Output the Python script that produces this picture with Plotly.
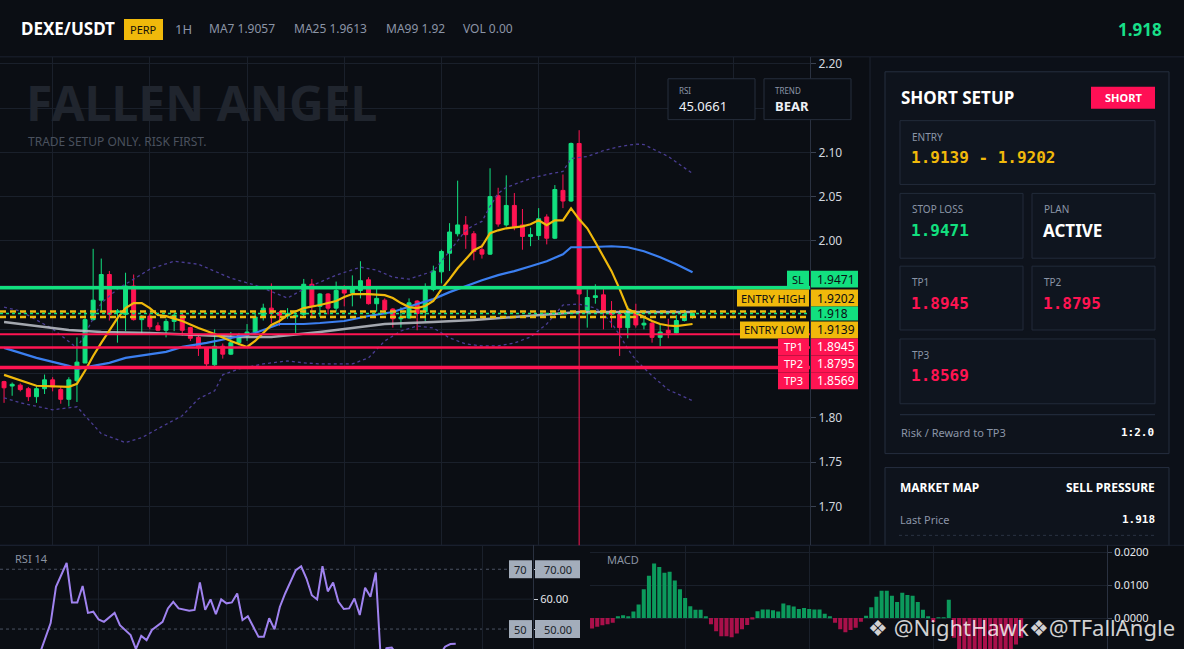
import plotly.graph_objects as go

W, H = 1184, 649
SANS = "Noto Sans"
MONO = "DejaVu Sans Mono"

# ---------------- data ----------------
opens = [1.841, 1.836, 1.837, 1.833, 1.824, 1.833, 1.843, 1.832, 1.821, 1.842,
         1.862, 1.911, 1.933, 1.962, 1.919, 1.917, 1.949, 1.911, 1.915, 1.904,
         1.899, 1.909, 1.916, 1.902, 1.891, 1.879, 1.860, 1.881, 1.872, 1.885,
         1.893, 1.897, 1.914, 1.924, 1.919, 1.915, 1.914, 1.917, 1.951, 1.926,
         1.940, 1.924, 1.946, 1.941, 1.944, 1.956, 1.929, 1.933, 1.923, 1.912,
         1.913, 1.932, 1.920, 1.945, 1.965, 1.986, 2.008, 2.018, 2.008, 1.990,
         1.985, 2.051, 2.018, 2.040, 2.018, 2.005, 2.006, 2.027, 2.003, 2.057,
         2.045, 2.110, 1.921, 1.936, 1.939, 1.921, 1.917, 1.902, 1.919, 1.905,
         1.907, 1.891, 1.899, 1.896, 1.910, 1.915]
highs = [1.842, 1.840, 1.839, 1.835, 1.836, 1.849, 1.846, 1.836, 1.846, 1.891,
         1.922, 1.991, 1.980, 1.966, 1.923, 1.964, 1.962, 1.916, 1.918, 1.908,
         1.912, 1.918, 1.918, 1.903, 1.893, 1.880, 1.900, 1.884, 1.897, 1.896,
         1.906, 1.920, 1.929, 1.952, 1.921, 1.924, 1.917, 1.957, 1.957, 1.941,
         1.941, 1.954, 1.950, 1.961, 1.977, 1.959, 1.946, 1.935, 1.924, 1.925,
         1.935, 1.933, 1.952, 1.972, 1.990, 2.020, 2.068, 2.028, 2.011, 1.996,
         2.082, 2.060, 2.074, 2.054, 2.036, 2.015, 2.037, 2.030, 2.063, 2.075,
         2.111, 2.125, 1.945, 1.951, 1.946, 1.932, 1.922, 1.926, 1.929, 1.913,
         1.910, 1.906, 1.912, 1.916, 1.922, 1.919]
lows = [1.817, 1.825, 1.830, 1.819, 1.817, 1.827, 1.830, 1.816, 1.813, 1.818,
        1.862, 1.910, 1.921, 1.910, 1.885, 1.898, 1.910, 1.895, 1.900, 1.898,
        1.891, 1.898, 1.893, 1.887, 1.870, 1.858, 1.858, 1.867, 1.871, 1.882,
        1.887, 1.894, 1.910, 1.907, 1.904, 1.912, 1.896, 1.915, 1.915, 1.914,
        1.917, 1.920, 1.926, 1.926, 1.935, 1.928, 1.920, 1.918, 1.902, 1.902,
        1.912, 1.899, 1.909, 1.943, 1.952, 1.966, 2.005, 1.991, 1.978, 1.980,
        1.984, 2.016, 2.016, 2.012, 1.990, 1.994, 2.001, 1.996, 2.002, 2.037,
        2.044, 1.640, 1.902, 1.929, 1.900, 1.902, 1.870, 1.890, 1.902, 1.900,
        1.885, 1.881, 1.890, 1.895, 1.909, 1.912]
closes = [1.834, 1.838, 1.832, 1.824, 1.833, 1.843, 1.835, 1.821, 1.843, 1.863,
          1.911, 1.933, 1.962, 1.917, 1.921, 1.949, 1.911, 1.915, 1.903, 1.899,
          1.909, 1.916, 1.899, 1.890, 1.879, 1.861, 1.881, 1.872, 1.885, 1.893,
          1.897, 1.914, 1.924, 1.918, 1.916, 1.918, 1.916, 1.951, 1.926, 1.940,
          1.924, 1.944, 1.941, 1.946, 1.955, 1.929, 1.935, 1.922, 1.912, 1.914,
          1.930, 1.918, 1.945, 1.966, 1.988, 2.010, 2.018, 2.007, 1.988, 1.985,
          2.050, 2.019, 2.040, 2.016, 2.005, 2.007, 2.025, 2.003, 2.058, 2.045,
          2.110, 1.940, 1.936, 1.938, 1.921, 1.917, 1.902, 1.921, 1.905, 1.907,
          1.891, 1.897, 1.896, 1.910, 1.917, 1.918]
candle_idx = list(range(len(opens)))

ma7_x = [0, 4, 8, 9, 10, 11, 12, 13, 14, 15, 16, 17, 18, 19, 20, 22, 24, 26, 28, 30,
         31, 32, 33, 34, 35, 37, 39, 41, 42, 43, 45, 47, 48, 49, 50, 51, 52, 53, 54, 55,
         56, 57, 58, 59, 60, 61, 62, 63, 64, 65, 66, 67, 68, 69, 70, 71, 72, 73, 74, 75,
         76, 77, 78, 79, 80, 81, 82, 83, 84, 85]
ma7_y = [1.8486, 1.8363, 1.8351, 1.8385, 1.8532, 1.870, 1.8847, 1.8982, 1.9128, 1.9241,
         1.9297, 1.9297, 1.9241, 1.9162, 1.915, 1.9095, 1.9016, 1.8948, 1.8869, 1.8802,
         1.8869, 1.8959, 1.905, 1.9095, 1.9162, 1.9241, 1.9275, 1.932, 1.9365, 1.9399,
         1.9399, 1.9387, 1.9354, 1.9297, 1.9252, 1.9241, 1.9264, 1.932, 1.9455, 1.9568,
         1.9691, 1.9793, 1.9894, 1.9939, 2.0086, 2.0119, 2.0142, 2.0153, 2.0164, 2.0187,
         2.0232, 2.0176, 2.0232, 2.0232, 2.0367, 2.0243, 2.0142, 1.9984, 1.9815, 1.9658,
         1.9455, 1.923, 1.9185, 1.914, 1.9095, 1.9061, 1.9044, 1.9038, 1.905, 1.9061]

ma25_x = [0, 4, 8, 9, 11, 13, 15, 18, 20, 22, 25, 28, 31, 34, 37, 39, 42, 45, 48, 51,
          53, 55, 57, 59, 61, 63, 65, 67, 69, 70, 72, 75, 77, 79, 81, 83, 85]
ma25_y = [1.8791, 1.8678, 1.8588, 1.8554, 1.8588, 1.8622, 1.8678, 1.8723, 1.8746, 1.8802,
          1.8847, 1.8903, 1.8959, 1.9061, 1.9061, 1.9072, 1.9095, 1.9151, 1.9196, 1.9286,
          1.9342, 1.9421, 1.9489, 1.9556, 1.9613, 1.9658, 1.9714, 1.977, 1.9849, 1.9928,
          1.9928, 1.9939, 1.9928, 1.9883, 1.9815, 1.9736, 1.9646]

ma99_x = [0, 4, 8, 12, 18, 24, 29, 33, 37, 39, 42, 47, 53, 58, 63, 68, 71, 78, 85]
ma99_y = [1.9083, 1.9038, 1.8993, 1.8971, 1.8959, 1.8937, 1.8914, 1.8914, 1.8948, 1.8971,
          1.9005, 1.9061, 1.9083, 1.9106, 1.914, 1.9173, 1.9196, 1.9196, 1.9196]

bb_up_x = [0, 2, 6, 9, 10, 12, 14, 18, 21, 24, 28, 31, 35, 37, 41, 44, 46, 48, 50, 53,
           55, 56, 57, 58, 59, 60, 61, 62, 63, 65, 67, 69, 70, 72, 74, 76, 78, 79, 80, 82, 85]
bb_up_y = [1.9252, 1.9207, 1.9005, 1.8791, 1.8948, 1.9297, 1.9455, 1.968, 1.977, 1.9736,
           1.9579, 1.950, 1.9354, 1.9455, 1.9613, 1.9703, 1.9669, 1.959, 1.9568, 1.9658,
           1.9883, 1.9995, 2.0119, 2.0176, 2.022, 2.039, 2.0536, 2.0604, 2.0637, 2.0705,
           2.075, 2.0784, 2.093, 2.0953, 2.102, 2.1065, 2.1093, 2.1088, 2.1043, 2.0953, 2.0761]

bb_lo_x = [0, 2, 6, 9, 10, 12, 15, 17, 19, 22, 24, 26, 27, 29, 32, 35, 37, 39, 43, 45,
           47, 49, 51, 53, 55, 57, 59, 61, 63, 65, 67, 69, 71, 73, 74, 75, 76, 77, 78, 80, 82, 85]
bb_lo_y = [1.8227, 1.8171, 1.8092, 1.8126, 1.8025, 1.7822, 1.7721, 1.7777, 1.7878, 1.8025,
           1.8216, 1.8306, 1.8486, 1.8554, 1.861, 1.8644, 1.8622, 1.861, 1.861, 1.8678,
           1.8869, 1.8982, 1.9038, 1.9016, 1.8903, 1.8836, 1.8813, 1.8813, 1.8847, 1.8914,
           1.9061, 1.9275, 1.9286, 1.924, 1.9174, 1.9072, 1.8937, 1.8779, 1.8655, 1.8475,
           1.8318, 1.8194]

# trade plan levels
sl_level = 1.9471
entry_high = 1.9202
entry_low = 1.9139
last_price = 1.918
tp1 = 1.8945
tp2 = 1.8795
tp3 = 1.8569
risk_reward = "1:2.0"

price_ticks = [1.70, 1.75, 1.80, 1.85, 1.90, 1.95, 2.00, 2.05, 2.10, 2.15, 2.20]
price_grid_x = [6, 18, 30, 42, 54, 66, 78, 90]

header_ma = [("MA7", "1.9057"), ("MA25", "1.9613"), ("MA99", "1.92"), ("VOL", "0.00")]
rsi_now = "45.0661"
trend_now = "BEAR"

rsi_x = [7, 9, 10, 12, 13, 14, 15, 16, 17, 18, 19, 21, 22, 24, 25, 26, 27, 28, 30, 31,
         32, 33, 35, 36, 37, 38, 39, 40, 41, 42, 43, 44, 45, 46, 48, 49, 50, 51, 52, 53,
         55, 56, 57, 58, 59, 60, 61, 62, 63, 64, 65, 66, 67, 68, 69, 70, 71, 72, 73, 75,
         78, 81, 83, 84, 85]
rsi_y = [42.0, 52.0, 64.1, 72.1, 58.9, 58.9, 64.4, 55.4, 55.8, 53.2, 52.4, 55.4, 51.3, 48.0,
         43.3, 47.7, 46.3, 49.7, 52.4, 56.9, 59.1, 56.9, 56.1, 56.4, 65.6, 56.4, 59.9, 55.0,
         59.9, 58.6, 58.9, 61.9, 53.0, 54.3, 47.4, 47.4, 53.6, 49.9, 57.4, 61.9, 69.7, 71.0,
         66.9, 61.3, 59.9, 71.0, 62.6, 65.6, 59.1, 56.7, 56.9, 60.2, 54.7, 63.8, 60.8, 68.9,
         38.0, 43.6, 43.8, 39.0, 36.0, 38.5, 44.1, 45.0, 45.07]
rsi_ticks = [70, 60, 50]
rsi_grid_x = [18, 42, 66, 90]

macd_x = list(range(2, 86))
macd_hist = [-0.0032, -0.0026, -0.0022, -0.0019, -0.0014,
             0.0004, 0.0009, 0.0004, 0.0020, 0.0041, 0.0088, 0.0129, 0.0166, 0.0155, 0.0138,
             0.0141, 0.0114, 0.0088, 0.0061, 0.0036, 0.0025, 0.0025, 0.0005,
             -0.0019, -0.0040, -0.0055, -0.0055, -0.0058, -0.0047, -0.0034, -0.0021, -0.0004,
             0.0021, 0.0026, 0.0026, 0.0024, 0.0020, 0.0044, 0.0039, 0.0035, 0.0028, 0.0031,
             0.0028, 0.0026, 0.0026, 0.0013, 0.0004,
             -0.0014, -0.0034, -0.0043, -0.0036, -0.0029, -0.0011,
             0.0007, 0.0033, 0.0065, 0.0083, 0.0083, 0.0068, 0.0049, 0.0077, 0.0070, 0.0068,
             0.0049, 0.0025, 0.0003,
             -0.0012, 0.0002, 0.0001, 0.0056,
             -0.0060, -0.0110, -0.0140, -0.0160, -0.0165, -0.0160, -0.0155, -0.0150, -0.0145,
             -0.0135, -0.0120, -0.0100, -0.0080, -0.0060]
macd_ticks = [0.02, 0.01, 0.0]
macd_ticktext = ["0.0200", "0.0100", "0.0000"]
macd_grid_x = [20, 44, 68]

# ---------------- styling ----------------
BG = "#0b0e14"
GRID = "#1a202b"
GREEN = "#12e07f"
RED = "#ff1452"
YELLOW = "#f0b90b"
LABEL = "#8b95a7"
WHITE = "#eef1f6"
PANEL = "#0e131c"
PANEL_LINE = "#252e3e"
BOX = "#0f151f"
BOX_LINE = "#222b3a"


def px_x(x):
    return x / W


def px_y(y):
    return 1 - y / H


def T(x, y, text, size=12, color=WHITE, family=SANS, xanchor="left", yanchor="middle", bold=False):
    if bold:
        text = "<b>" + text + "</b>"
    return dict(x=px_x(x), y=px_y(y), xref="paper", yref="paper", text=text, showarrow=False,
                xanchor=xanchor, yanchor=yanchor, font=dict(size=size, color=color, family=family),
                borderpad=0)


def R(x0, y0, x1, y1, fill, line=None, width=1, layer="below"):
    return dict(type="rect", xref="paper", yref="paper", x0=px_x(x0), x1=px_x(x1),
                y0=px_y(y1), y1=px_y(y0), fillcolor=fill,
                line=dict(color=line if line else fill, width=width if line else 0), layer=layer)


def L(x0, y0, x1, y1, color, width=1, dash="solid", layer="below"):
    return dict(type="line", xref="paper", yref="paper", x0=px_x(x0), x1=px_x(x1),
                y0=px_y(y0), y1=px_y(y1), line=dict(color=color, width=width, dash=dash), layer=layer)


fig = go.Figure()

# bands and MAs
for bx, by in ((bb_up_x, bb_up_y), (bb_lo_x, bb_lo_y)):
    fig.add_trace(go.Scatter(x=bx, y=by, mode="lines", xaxis="x", yaxis="y",
                             line=dict(color="#4a3d94", width=1.3, dash="dot"), hoverinfo="skip"))

fig.add_trace(go.Candlestick(x=candle_idx, open=opens, high=highs, low=lows, close=closes,
                             xaxis="x", yaxis="y", whiskerwidth=0,
                             increasing=dict(line=dict(color=GREEN, width=1), fillcolor=GREEN),
                             decreasing=dict(line=dict(color=RED, width=1), fillcolor=RED)))

fig.add_trace(go.Scatter(x=ma99_x, y=ma99_y, mode="lines", xaxis="x", yaxis="y",
                         line=dict(color="rgba(190,194,202,0.85)", width=2.5), hoverinfo="skip"))
fig.add_trace(go.Scatter(x=ma25_x, y=ma25_y, mode="lines", xaxis="x", yaxis="y",
                         line=dict(color="#3b7ff0", width=2.2), hoverinfo="skip"))
fig.add_trace(go.Scatter(x=ma7_x, y=ma7_y, mode="lines", xaxis="x", yaxis="y",
                         line=dict(color="#f0b90b", width=2.2), hoverinfo="skip"))

# RSI
fig.add_trace(go.Scatter(x=rsi_x, y=rsi_y, mode="lines", xaxis="x2", yaxis="y2",
                         line=dict(color="#a083f0", width=2), hoverinfo="skip"))

# MACD histogram
fig.add_trace(go.Bar(x=macd_x, y=macd_hist, xaxis="x3", yaxis="y3",
                     marker=dict(color=["#0c9a5c" if v >= 0 else "#a9104a" for v in macd_hist],
                                 line=dict(width=0)), hoverinfo="skip"))

shapes = []
ann = []

# backgrounds
shapes.append(R(870, 55, W, 545, "#0c1018"))
shapes.append(L(0, 55, W, 55, "#1c2230", 1))
shapes.append(L(870, 55, 870, 545, "#1c2230", 1))
shapes.append(L(0, 545, 870, 545, "#1c2230", 1))

# main chart level lines
level_style = [
    (sl_level, GREEN, 3.5, "solid"),
    (entry_high, YELLOW, 2.5, "6px,4px"),
    (entry_low, YELLOW, 2.5, "6px,4px"),
    (last_price, GREEN, 1.5, "3px,3px"),
    (tp1, RED, 2.2, "solid"),
    (tp2, RED, 2.5, "solid"),
    (tp3, RED, 3.5, "solid"),
]
for v, c, w, d in level_style:
    shapes.append(dict(type="line", xref="x domain", yref="y", x0=0, x1=1, y0=v, y1=v,
                       line=dict(color=c, width=w, dash=d), layer="above"))

# stacked level labels on the price axis
labels = [
    ("SL", sl_level, GREEN, "#0b0e14", 787, 278, "{:.4f}"),
    ("ENTRY HIGH", entry_high, YELLOW, "#0b0e14", 737, 297, "{:.4f}"),
    (None, last_price, GREEN, "#0b0e14", None, 312.5, "{:.3f}"),
    ("ENTRY LOW", entry_low, YELLOW, "#0b0e14", 740, 329, "{:.4f}"),
    ("TP1", tp1, RED, "#ffffff", 778, 346, "{:.4f}"),
    ("TP2", tp2, RED, "#ffffff", 778, 363, "{:.4f}"),
    ("TP3", tp3, RED, "#ffffff", 778, 380, "{:.4f}"),
]
for name, v, bg, fg, x0, yc, fmt in labels:
    hh = 8.5 if name else 7
    if name:
        shapes.append(R(x0, yc - hh, 809, yc + hh, bg, layer="above"))
        ann.append(T((x0 + 809) / 2, yc, name, 11, fg, xanchor="center"))
    shapes.append(R(811, yc - hh, 858, yc + hh, bg, layer="above"))
    ann.append(T(816, yc, fmt.format(v), 12, fg))

# price tick labels hidden where the stacked level labels sit
label_top = 2.20 - (278 - 9 - 62) / 888
label_bot = 2.20 - (380 + 9 - 62) / 888
price_ticktext = ["" if label_bot <= t <= label_top else "{:.2f}".format(t) for t in price_ticks]

# header
ann.append(T(20, 27, "DEXE/USDT", 17, "#ffffff", bold=True))
shapes.append(R(124, 17, 163, 38, YELLOW))
ann.append(T(143.5, 27.5, "PERP", 11, "#15120a", xanchor="center"))
ann.append(T(174, 27, "1H", 13, LABEL))
hx = [208, 293, 385, 462]
for (k, v), x in zip(header_ma, hx):
    ann.append(T(x, 27, k + " " + v, 12, LABEL))
ann.append(T(1163, 28, "{:.3f}".format(last_price), 17, "#18e08a", xanchor="right", bold=True))

# watermark
ann.append(T(25, 101, "FALLEN ANGEL", 48, "#20252e", bold=True))
ann.append(T(27, 140, "TRADE SETUP ONLY. RISK FIRST.", 12, "#4a515e"))

# RSI / TREND boxes
shapes.append(R(668, 77, 755, 118, "#0b0f16", "#262e3c", 1, layer="above"))
shapes.append(R(764, 77, 851, 118, "#0b0f16", "#262e3c", 1, layer="above"))
ann.append(T(678, 89, "RSI", 8, LABEL))
ann.append(T(678, 104, rsi_now, 13, WHITE))
ann.append(T(774, 89, "TREND", 8, LABEL))
ann.append(T(774, 104, trend_now, 13, WHITE, bold=True))

# right panel: short setup
shapes.append(R(885, 70, 1169, 453, PANEL, PANEL_LINE, 1))
ann.append(T(900, 96, "SHORT SETUP", 17, "#ffffff", bold=True))
shapes.append(R(1091, 85, 1155, 107, "#ff0f55"))
ann.append(T(1123, 96, "SHORT", 11, "#ffffff", xanchor="center", bold=True))

boxes = [
    (900, 119, 1155, 183, "ENTRY", "{:.4f} - {:.4f}".format(entry_low, entry_high), YELLOW, MONO),
    (900, 192, 1023, 257, "STOP LOSS", "{:.4f}".format(sl_level), GREEN, MONO),
    (1032, 192, 1155, 257, "PLAN", "ACTIVE", "#ffffff", SANS),
    (900, 265, 1023, 329, "TP1", "{:.4f}".format(tp1), RED, MONO),
    (1032, 265, 1155, 329, "TP2", "{:.4f}".format(tp2), RED, MONO),
    (900, 338, 1155, 403, "TP3", "{:.4f}".format(tp3), RED, MONO),
]
for x0, y0, x1, y1, lab, val, col, fam in boxes:
    shapes.append(R(x0, y0, x1, y1, BOX, BOX_LINE, 1))
    ann.append(T(x0 + 11, y0 + 16, lab, 10, LABEL))
    ann.append(T(x0 + 10, y0 + 37, val, 16 if fam == MONO else 17, col, family=fam, bold=True))

shapes.append(L(900, 414, 1155, 414, "#263042", 1))
ann.append(T(900, 432, "Risk / Reward to TP3", 11, LABEL))
ann.append(T(1155, 432, risk_reward, 11, "#ffffff", family=MONO, xanchor="right", bold=True))

# market map panel
shapes.append(R(885, 467, 1169, 560, PANEL, PANEL_LINE, 1))
ann.append(T(899, 487, "MARKET MAP", 12, "#ffffff", bold=True))
ann.append(T(1156, 487, "SELL PRESSURE", 12, "#ffffff", xanchor="right", bold=True))
ann.append(T(899, 519, "Last Price", 11, LABEL))
ann.append(T(1156, 519, "{:.3f}".format(last_price), 11, "#ffffff", family=MONO, xanchor="right", bold=True))
shapes.append(L(899, 535, 1156, 535, "#2a3343", 1, "dot"))

# bottom panels background (covers the market map panel bottom)
shapes.append(R(0, 545.5, W, H, BG))
shapes.append(L(0, 545, W, 545, "#1c2230", 1))

# RSI panel
ann.append(T(14, 558, "RSI 14", 11, "#8a93a2"))
for lv in (70, 50):
    shapes.append(dict(type="line", xref="x2 domain", yref="y2", x0=0, x1=1, y0=lv, y1=lv,
                       line=dict(color="#4b5262", width=1, dash="dot"), layer="below"))
shapes.append(dict(type="line", xref="x2 domain", yref="y2", x0=0, x1=1, y0=60, y1=60,
                   line=dict(color=GRID, width=1), layer="below"))
for lv, yc in ((70, 569), (50, 629)):
    shapes.append(R(509, yc - 9, 532, yc + 9, "#a3adbb", layer="above"))
    shapes.append(R(535, yc - 9, 580, yc + 9, "#a3adbb", layer="above"))
    ann.append(T(520.5, yc, str(lv), 11, "#1a1f29", xanchor="center"))
    ann.append(T(557.5, yc, "{:.2f}".format(lv), 11, "#1a1f29", xanchor="center"))

# MACD panel
ann.append(T(606, 559, "MACD", 11, "#8a93a2"))

# platform watermark overlay
ann.append(T(1176, 627, "❖ @NightHawk❖@TFallAngle", 22, "rgba(255,255,255,0.82)", xanchor="right"))

y_lo = 2.20 - (545 - 62) / 888
y_hi = 2.20 + (62 - 55) / 888

fig.update_layout(
    width=W, height=H, margin=dict(l=0, r=0, t=0, b=0),
    paper_bgcolor=BG, plot_bgcolor="rgba(0,0,0,0)", showlegend=False,
    bargap=0.22,
    xaxis=dict(domain=[0, 810 / W], range=[-0.5, 99.5], anchor="y", showticklabels=False,
               tickvals=price_grid_x, showgrid=True, gridcolor=GRID, zeroline=False,
               rangeslider=dict(visible=False), fixedrange=True),
    yaxis=dict(domain=[1 - 545 / H, 1 - 55 / H], range=[y_lo, y_hi], side="right", anchor="x",
               tickvals=price_ticks, ticktext=price_ticktext,
               showgrid=True, gridcolor=GRID, zeroline=False, showline=True, linecolor="#2a3140",
               ticks="outside", ticklen=5, tickcolor="#3a4252",
               tickfont=dict(size=12, color="#d2d6de", family=SANS)),
    xaxis2=dict(domain=[0, 533 / W], range=[-0.5, 99.5], anchor="y2", showticklabels=False,
                tickvals=rsi_grid_x, showgrid=True, gridcolor=GRID, zeroline=False),
    yaxis2=dict(domain=[0, 1 - 545 / H], range=[70 - (649 - 569) / 3, 70 + (569 - 545) / 3],
                side="right", anchor="x2", tickvals=rsi_ticks, ticktext=["", "60.00", ""],
                showgrid=False, zeroline=False, showline=True, linecolor="#2a3140",
                ticks="outside", ticklen=4, tickcolor="#c8ccd4",
                tickfont=dict(size=11, color="#e4e7ec", family=SANS)),
    xaxis3=dict(domain=[590 / W, 1107 / W], range=[1.6, 101.6], anchor="y3", showticklabels=False,
                tickvals=macd_grid_x, showgrid=True, gridcolor=GRID, zeroline=False),
    yaxis3=dict(domain=[0, 1 - 545 / H], range=[-(649 - 618) / 3300, (618 - 545) / 3300],
                side="right", anchor="x3", tickvals=macd_ticks, ticktext=macd_ticktext,
                showgrid=True, gridcolor=GRID, zeroline=False, showline=True, linecolor="#2a3140",
                ticks="outside", ticklen=4, tickcolor="#3a4252",
                tickfont=dict(size=11, color="#e4e7ec", family=SANS)),
    shapes=shapes, annotations=ann,
)

fig.write_html("out.html", config=dict(displayModeBar=False),
               post_script="document.body.style.margin='0';document.body.style.overflow='hidden';")
